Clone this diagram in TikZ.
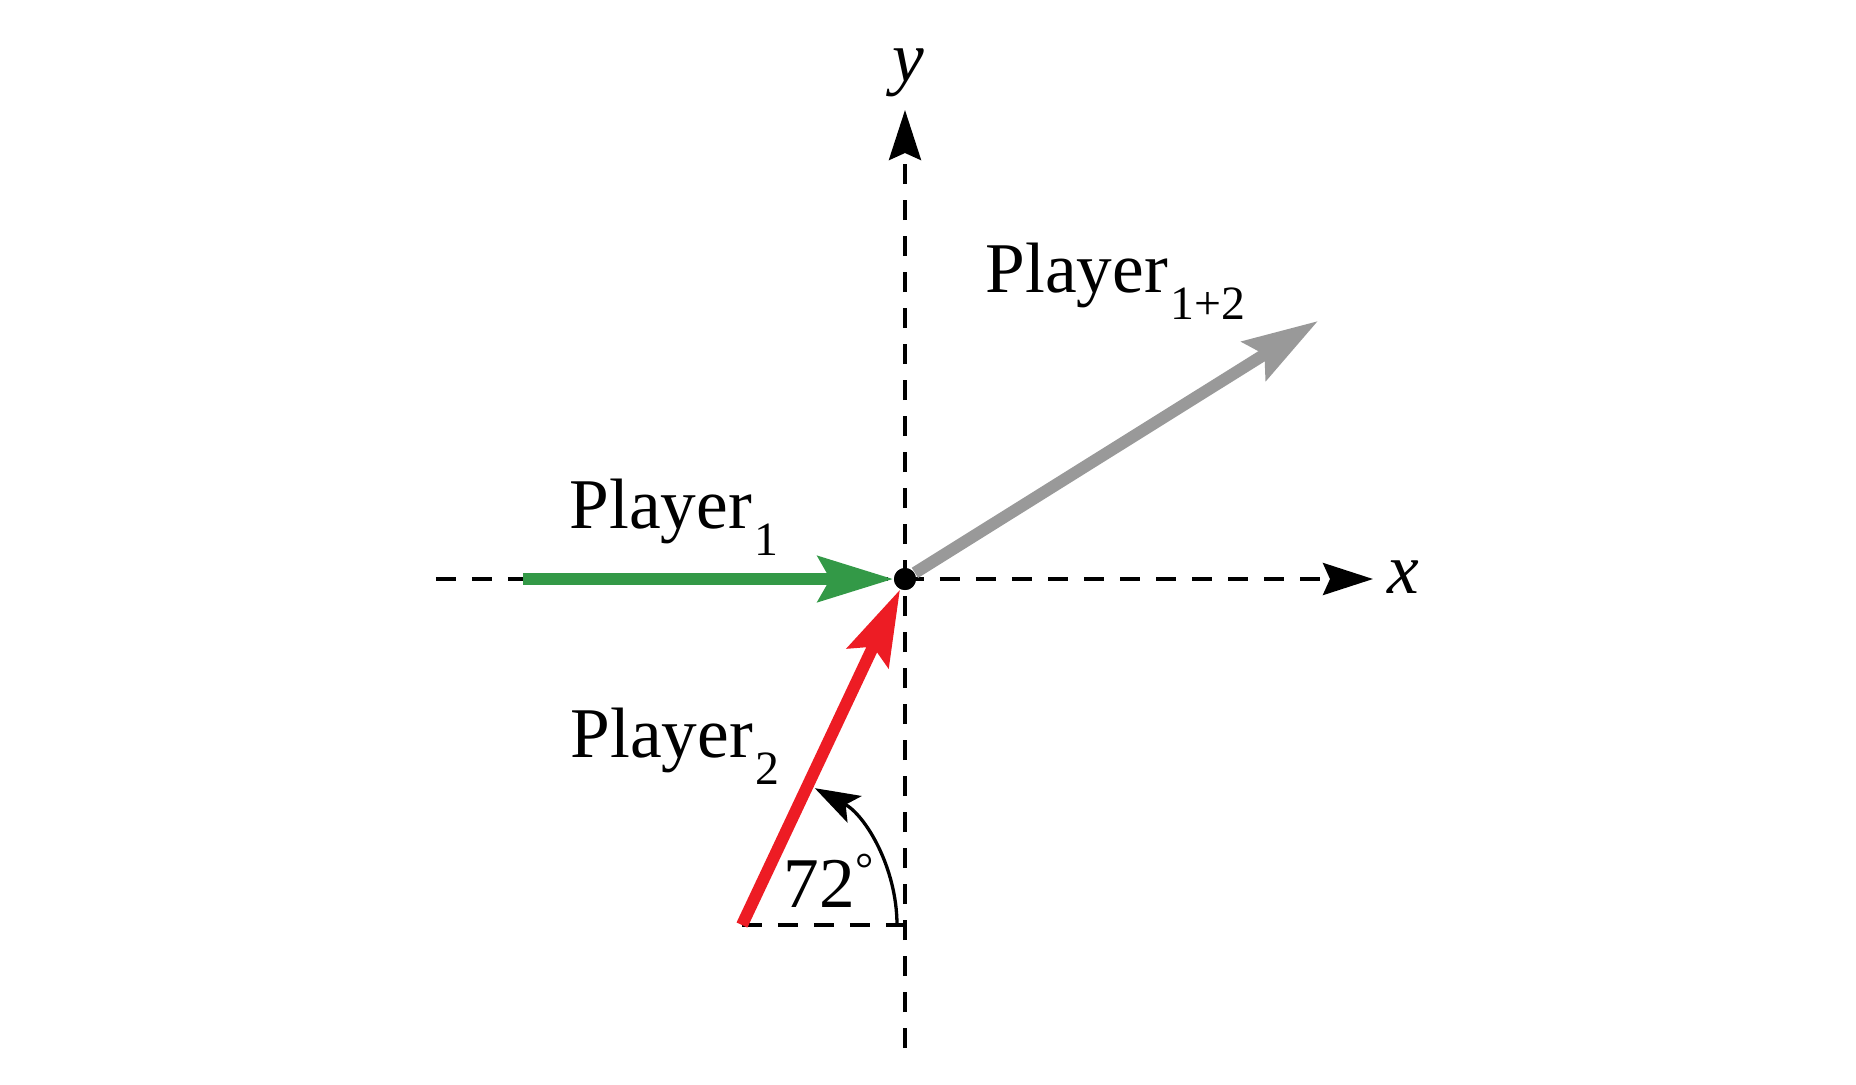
\documentclass[tikz,border=0pt]{standalone}
\usepackage{fontspec}
\setmainfont{Liberation Serif}
\usetikzlibrary{arrows.meta}
\definecolor{pgreen}{RGB}{51,153,71}
\definecolor{pred}{RGB}{237,28,36}
\definecolor{pgray}{RGB}{153,153,153}
\newcommand\lowsub[1]{\kern0.03cm\raisebox{-0.39em}{\fontsize{13.6}{16}\selectfont#1}}
\begin{document}
\begin{tikzpicture}[
  dashline/.style={line width=0.04cm,dash pattern=on 0.2cm off 0.16cm},
  axis/.style={dashline,-{Stealth[length=0.5cm,width=0.32cm,inset=0.07cm]}},
  vec/.style={line width=0.12cm,-{Stealth[length=0.75cm,width=0.45cm,inset=0.12cm]}},
  lbl/.style={inner sep=0pt,anchor=base west,font=\fontsize{20.3}{24}\selectfont}]
\useasboundingbox (-9.05,-5.05) rectangle (9.51,5.79);
\node[circle,fill,inner sep=0pt,minimum size=0.22cm] (o) at (0,0) {};
\coordinate (xl) at (-4.69,0);
\coordinate (xr) at (4.68,0);
\coordinate (yb) at (0,-4.69);
\coordinate (yt) at (0,4.69);
\coordinate (p1) at (-3.82,0);
\coordinate (p2) at (-1.63,-3.46);
\coordinate (p12) at (4.13,2.58);
% axes
\draw[axis] (xl) -- (xr);
\draw[axis] (yb) -- (yt);
\draw[dashline] (p2) -- (p2 -| o);
% players
\draw[vec,pgreen] (p1) -- (o);
\draw[vec,pred] (p2) -- (o);
\draw[vec,pgray] (o) -- (p12);
\fill (o) circle(0.11cm);
% angle
\draw[line width=0.033cm,-{Stealth[length=0.45cm,width=0.3cm,inset=0.1cm]}]
  ([shift={(0:1.55)}]p2) arc[start angle=0,end angle=62,radius=1.55];
\node[lbl] (ang) at (-1.22,-3.28) {72\raisebox{0.32em}{\fontsize{13}{15}\selectfont°}};
% labels
\node[lbl] (l1) at (-3.36,0.51) {Player\lowsub{1}};
\node[lbl] (l2) at (-3.35,-1.78) {Player\lowsub{2}};
\node[lbl] (l12) at (0.80,2.87) {Player\lowsub{1+2}};
\node[lbl] (xlab) at (4.82,-0.14) {\textit{x}};
\node[lbl] (ylab) at (-0.13,4.98) {\textit{y}};
\end{tikzpicture}
\end{document}
